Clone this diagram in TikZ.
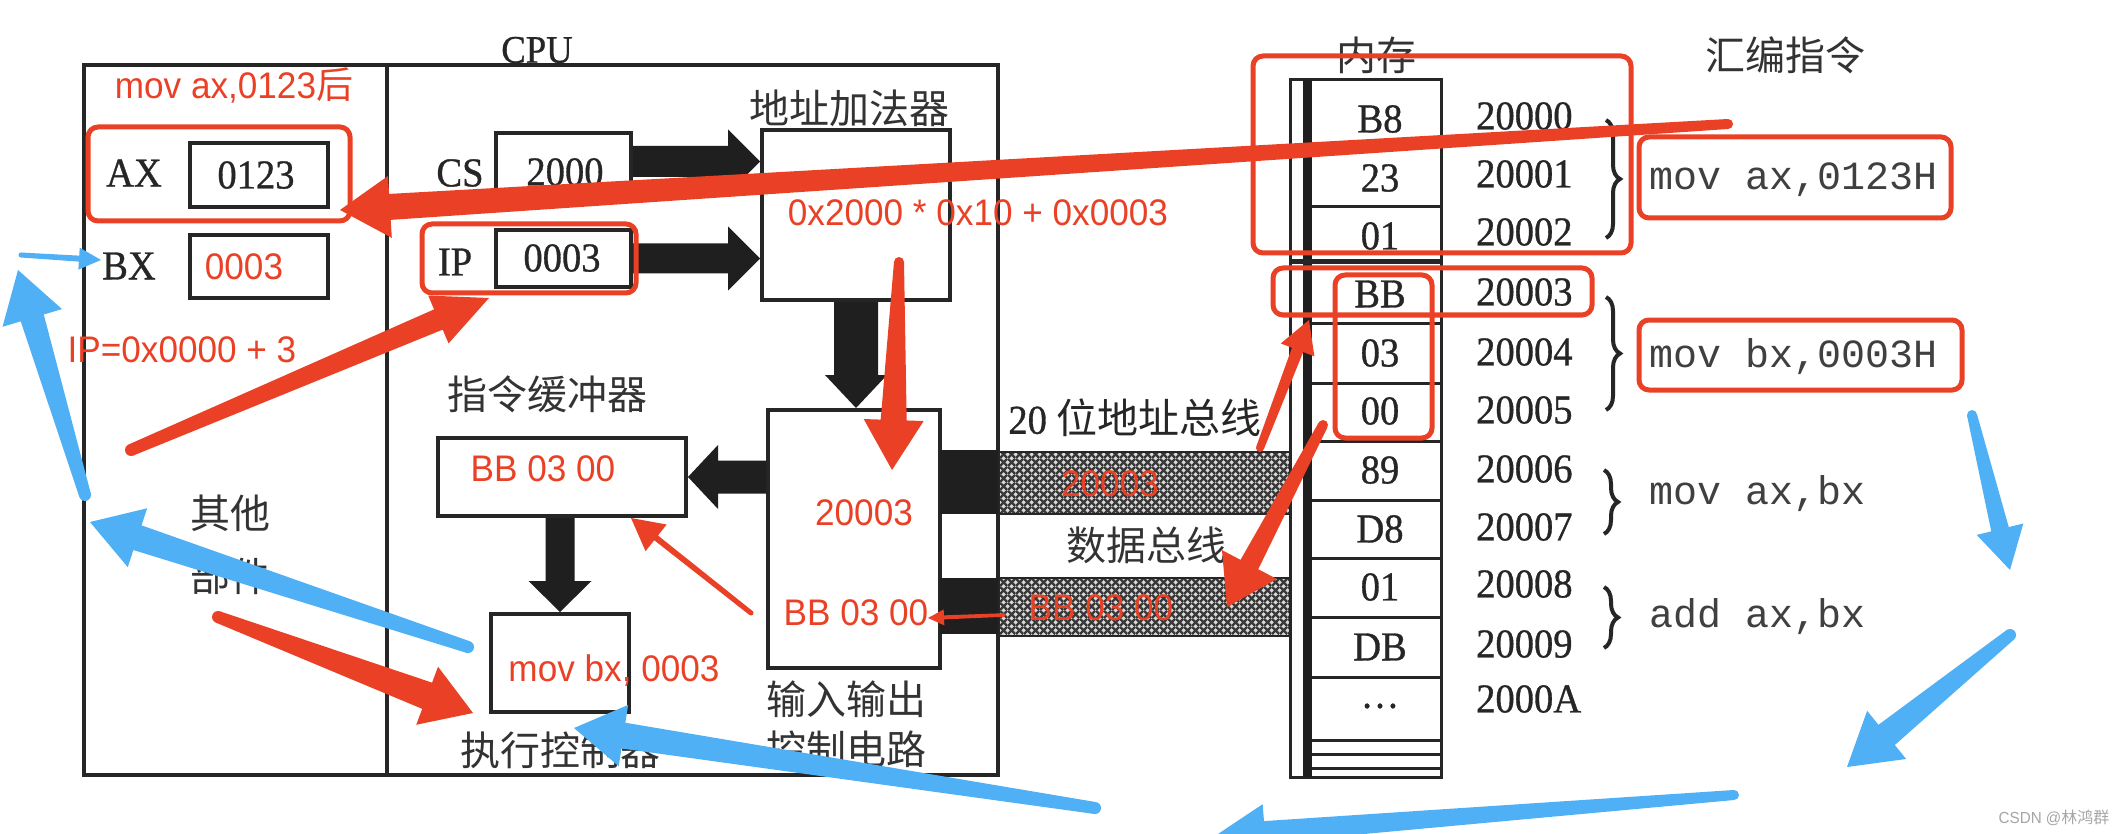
\documentclass[tikz,border=0pt]{standalone}
\usepackage{fontspec}
\setmainfont{Liberation Serif}[FakeBold=0.8, FakeStretch=0.94]
\newfontfamily\cjk{Noto Sans CJK SC}
\newfontfamily\annfont{Liberation Sans}[FakeStretch=0.95]
\newfontfamily\instrfont{Liberation Mono}
\usetikzlibrary{calc,patterns,decorations.pathreplacing}
\definecolor{annred}{RGB}{234,65,38}
\definecolor{annblue}{RGB}{80,176,245}
\pgfdeclarepatternformonly{bushatch}{\pgfpointorigin}{\pgfpoint{8pt}{8pt}}{\pgfpoint{8pt}{8pt}}{%
  \pgfsetlinewidth{2.6pt}%
  \pgfpathmoveto{\pgfpoint{0pt}{0pt}}\pgfpathlineto{\pgfpoint{8pt}{8pt}}%
  \pgfpathmoveto{\pgfpoint{0pt}{8pt}}\pgfpathlineto{\pgfpoint{8pt}{0pt}}%
  \pgfusepath{stroke}}
\newcommand\fatarrow[7]{%
  \coordinate (fab) at ($(#3)!#7!(#2)$);
  \fill[#1] ($(#2)!#4!90:(#3)$) -- ($(fab)!#5!90:(#3)$) -- ($(fab)!#6!90:(#3)$) -- (#3)
     -- ($(fab)!#6!-90:(#3)$) -- ($(fab)!#5!-90:(#3)$) -- ($(#2)!#4!-90:(#3)$) -- cycle;
  \fill[#1] (#2) circle[radius=#4];
}
\newcommand\blockarrow[5]{%
  \coordinate (bab) at ($(#2)!#5!(#1)$);
  \fill[black!88] ($(#1)!#3!90:(#2)$) -- ($(bab)!#3!90:(#2)$) -- ($(bab)!#4!90:(#2)$) -- (#2)
     -- ($(bab)!#4!-90:(#2)$) -- ($(bab)!#3!-90:(#2)$) -- ($(#1)!#3!-90:(#2)$) -- cycle;
}
\begin{document}
\begin{tikzpicture}[x=1pt,y=-1pt,
  scan/.style={draw=black!85, line width=4pt, inner sep=0pt},
  lbl/.style={font=\fontsize{41}{44}\selectfont, text=black!85, inner sep=0pt},
  cjklbl/.style={font=\cjk\fontsize{40}{44}\selectfont, text=black!80, inner sep=0pt},
  ann/.style={font=\annfont\fontsize{37}{40}\selectfont, text=annred, inner sep=0pt},
  redbox/.style={draw=annred, line width=5pt, rounded corners=10pt},
  instr/.style={font=\instrfont\fontsize{40}{44}\selectfont, text=black!75, anchor=west, inner sep=0pt},
  memline/.style={draw=black!85, line width=3pt},
  bus/.style={fill=gray!30},
  busdots/.style={pattern=bushatch, pattern color=black!78}
]
\useasboundingbox (0,0) rectangle (2120,834);
\clip (0,0) rectangle (2120,834);
\fill[white] (0,0) rectangle (2120,834);

% ---------- CPU frame ----------
\draw[scan, line width=4.5pt] (84,65) rectangle (998,775);
\draw[scan] (387,65) -- (387,775);
\node[lbl, font=\fontsize{39}{42}\selectfont] (cpu) at (537,50) {CPU};

% registers on the left
\node[lbl] (axl) at (134,173) {AX};
\node[scan, minimum width=138pt, minimum height=64pt] (axbox) at (259,175) {};
\node[lbl] (axv) at (256,175) {0123};
\node[lbl] (bxl) at (129,266) {BX};
\node[scan, minimum width=138pt, minimum height=63pt] (bxbox) at (259,266.5) {};
\node[cjklbl] (qt1) at (230,513) {其他};
\node[cjklbl] (qt2) at (230,576) {部件};

% CS / IP
\node[lbl] (csl) at (460,173) {CS};
\node[scan, minimum width=135pt, minimum height=57pt] (csbox) at (563.5,161.5) {};
\node[lbl] (csv) at (565,172) {2000};
\node[lbl] (ipl) at (455,262) {IP};
\node[scan, minimum width=135pt, minimum height=57pt] (ipbox) at (563.5,258.5) {};
\node[lbl] (ipv) at (562,258) {0003};

% address adder
\node[cjklbl] (addl) at (849,108) {地址加法器};
\node[scan, minimum width=188pt, minimum height=170pt] (adder) at (856,215) {};

% IO control
\node[scan, minimum width=172pt, minimum height=258pt] (iobox) at (854,539) {};
\node[cjklbl] (io1) at (846,699) {输入输出};
\node[cjklbl] (io2) at (846,749) {控制电路};

% instruction buffer
\node[cjklbl] (bufl) at (547,394) {指令缓冲器};
\node[scan, minimum width=248pt, minimum height=78pt] (buffer) at (562,477) {};

% execution controller
\node[scan, minimum width=138pt, minimum height=98pt] (exec) at (560,663) {};
\node[cjklbl] (execl) at (560,750) {执行控制器};

% black block arrows
\coordinate (csA) at (csbox.east);
\coordinate (csB) at (adder.west |- csbox.east);
\blockarrow{csA}{csB}{15.5pt}{32pt}{32pt}
\coordinate (ipA) at (ipbox.east);
\coordinate (ipB) at (adder.west |- ipbox.east);
\blockarrow{ipA}{ipB}{15pt}{32pt}{32pt}
\coordinate (adA) at (adder.south);
\coordinate (adB) at (adder.south |- iobox.north);
\blockarrow{adA}{adB}{22pt}{31pt}{33pt}
\coordinate (ioA) at (iobox.west |- buffer.east);
\coordinate (ioB) at (buffer.east);
\blockarrow{ioA}{ioB}{16.5pt}{32pt}{30pt}
\coordinate (buA) at (exec.north |- buffer.south);
\coordinate (buB) at (exec.north);
\blockarrow{buA}{buB}{14.5pt}{31.5pt}{31pt}

% bars from IO box to the bus
\fill[black!88] (940,450) rectangle (998,514);
\fill[black!88] (940,578) rectangle (998,634);

% buses
\fill[bus] (1000,452) rectangle (1290,514);
\fill[busdots] (1000,452) rectangle (1290,514);
\draw[black!85, line width=2.5pt] (1000,452) -- (1290,452) (1000,514) -- (1290,514);
\fill[bus] (1000,578) rectangle (1290,636);
\fill[busdots] (1000,578) rectangle (1290,636);
\draw[black!85, line width=2.5pt] (1000,578) -- (1290,578) (1000,636) -- (1290,636);
\node[lbl] (abus) at (1135,418) {20 {\cjk 位地址总线}};
\node[cjklbl] (dbus) at (1146,545) {数据总线};

% ---------- memory ----------
\node[cjklbl] (meml) at (1376,55) {内存};
\node[cjklbl] (asml) at (1785,55) {汇编指令};
\draw[memline] (1290,777) -- (1290,80) -- (1441,80) -- (1441,777) -- cycle;
\fill[black!88] (1303,80) rectangle (1312,777);
\foreach \yy in {207,323,383,441,500,558,617,677,740,754,768}
  \draw[memline] (1312,\yy) -- (1441,\yy);
\draw[memline, line width=5pt] (1290,262) -- (1441,262);
\foreach \yy/\vv [count=\i] in {119/B8,178/23,236/01,294/BB,353/03,411/00,470/89,529/D8,587/01,647/DB}
  \node[lbl] (m\i) at (1380,\yy) {\vv};
\node[lbl] (m11) at (1380,706) {\ldots};
\foreach \yy/\aa [count=\i] in {116/20000,174/20001,232/20002,292/20003,352/20004,410/20005,469/20006,527/20007,584/20008,644/20009,699/2000A}
  \node[lbl, anchor=west] (a\i) at (1476,\yy) {\aa};

% braces
\draw[black!85, line width=4pt, decorate, decoration={brace, amplitude=14pt}] (1606,120) -- (1606,238);
\draw[black!85, line width=4pt, decorate, decoration={brace, amplitude=14pt}] (1606,297) -- (1606,410);
\draw[black!85, line width=4pt, decorate, decoration={brace, amplitude=14pt}] (1604,470) -- (1604,534);
\draw[black!85, line width=4pt, decorate, decoration={brace, amplitude=14pt}] (1604,587) -- (1604,648);

% instructions
\node[instr] (i1) at (1649,180) {mov ax,0123H};
\node[instr] (i2) at (1649,357) {mov bx,0003H};
\node[instr] (i3) at (1649,494) {mov ax,bx};
\node[instr] (i4) at (1649,617) {add ax,bx};

\node[font=\annfont\fontsize{16}{18}\selectfont, text=gray!70, inner sep=0pt] (wm) at (2054,818) {CSDN @{\cjk 林鸿群}};

% ---------- red annotations ----------
\draw[redbox] (88,127) rectangle (350,221);
\draw[redbox] (422,224) rectangle (636,293);
\draw[redbox] (1253,56) rectangle (1631,253);
\draw[redbox] (1273,268) rectangle (1592,315);
\draw[redbox] (1335,275) rectangle (1432,438);
\draw[redbox] (1639,137) rectangle (1951,218);
\draw[redbox] (1639,320) rectangle (1962,390);

\node[ann] (t1) at (234,85) {mov ax,0123{\cjk 后}};
\node[ann] (t2) at (244,267) {0003};
\node[ann] (t3) at (182,350) {IP=0x0000 + 3};
\node[ann] (t4) at (978,213) {0x2000 * 0x10 + 0x0003};
\node[ann] (t5) at (543,469) {BB 03 00};
\node[ann] (t6) at (864,513) {20003};
\node[ann] (t7) at (856,613) {BB 03 00};
\node[ann] (t8) at (1110,484) {20003};
\node[ann] (t9) at (1101,608) {BB 03 00};
\node[ann] (t10) at (614,670) {mov bx, 0003};

% red arrows
\coordinate (raT) at (1728,124); \coordinate (raH) at (340,210);
\fatarrow{annred}{raT}{raH}{5pt}{13pt}{31pt}{50pt}
\coordinate (rbT) at (131,450); \coordinate (rbH) at (489,298);
\fatarrow{annred}{rbT}{rbH}{6pt}{11pt}{26pt}{55pt}
\coordinate (rdT) at (899,262); \coordinate (rdH) at (892,470);
\fatarrow{annred}{rdT}{rdH}{5pt}{13pt}{30pt}{50pt}
\coordinate (reT) at (751,613); \coordinate (reH) at (631,518);
\fatarrow{annred}{reT}{reH}{2.5pt}{3pt}{17pt}{32pt}
\coordinate (rfT) at (1260,448); \coordinate (rfH) at (1309,320);
\fatarrow{annred}{rfT}{rfH}{4pt}{6pt}{18pt}{32pt}
\coordinate (rgT) at (1323,425); \coordinate (rgH) at (1227,607);
\fatarrow{annred}{rgT}{rgH}{5pt}{10pt}{31pt}{48pt}
\coordinate (rhT) at (218,617); \coordinate (rhH) at (473,713);
\fatarrow{annred}{rhT}{rhH}{6pt}{14pt}{31pt}{49pt}
\coordinate (riT) at (1004,615); \coordinate (riH) at (928,618);
\fatarrow{annred}{riT}{riH}{1.8pt}{2pt}{8pt}{16pt}

% blue arrows
\coordinate (baT) at (1972,415); \coordinate (baH) at (2010,570);
\fatarrow{annblue}{baT}{baH}{5pt}{9pt}{24pt}{42pt}
\coordinate (bbT) at (2010,635); \coordinate (bbH) at (1847,767);
\fatarrow{annblue}{bbT}{bbH}{6pt}{13pt}{31pt}{51pt}
\coordinate (bcT) at (1734,795); \coordinate (bcH) at (1215,836);
\fatarrow{annblue}{bcT}{bcH}{5pt}{11pt}{28pt}{50pt}
\coordinate (bdT) at (1095,808); \coordinate (bdH) at (574,728);
\fatarrow{annblue}{bdT}{bdH}{6pt}{13pt}{31pt}{50pt}
\coordinate (beT) at (468,647); \coordinate (beH) at (90,522);
\fatarrow{annblue}{beT}{beH}{6pt}{13pt}{31pt}{50pt}
\coordinate (bfT) at (85,495); \coordinate (bfH) at (18,270);
\fatarrow{annblue}{bfT}{bfH}{6pt}{12pt}{31pt}{50pt}
\coordinate (bgT) at (21,255); \coordinate (bgH) at (101,260);
\fatarrow{annblue}{bgT}{bgH}{2.5pt}{3pt}{11pt}{22pt}
\end{tikzpicture}
\end{document}
